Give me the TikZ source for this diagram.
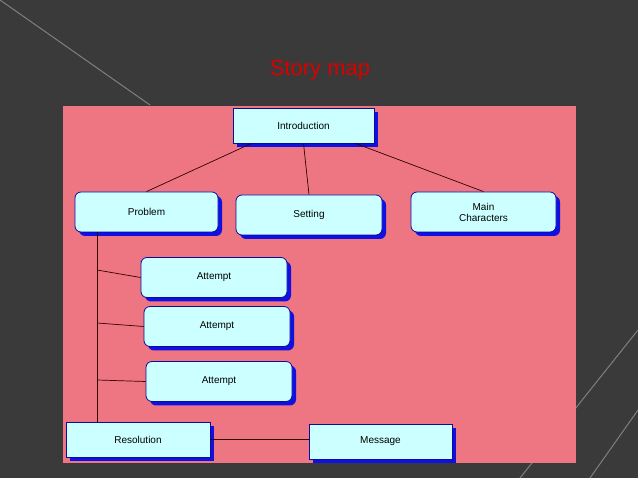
\documentclass[tikz,border=0pt]{standalone}
\usepackage{fontspec}
\setmainfont{Liberation Sans}
\definecolor{bg}{HTML}{3A3A3A}
\definecolor{panel}{HTML}{EE7682}
\definecolor{boxfill}{HTML}{CCFFFF}
\definecolor{shadowblue}{HTML}{1010E0}
\begin{document}
\begin{tikzpicture}[x=1pt,y=-1pt,
  base/.style={draw=shadowblue!70!black,fill=boxfill,line width=0.8pt,font=\fontsize{10}{11}\selectfont,align=center,inner sep=0pt},
  rbox/.style={base},
  link/.style={draw=black!80!red,line width=0.7pt}]
\useasboundingbox (0,0) rectangle (638,478);
\fill[bg] (0,0) rectangle (638,478);
\draw[white!35!bg,line width=1pt] (0,0) -- (150,105);
\draw[white!35!bg,line width=1pt] (638,330) -- (520,478);
\draw[white!35!bg,line width=1pt] (638,410) -- (590,478);
\fill[panel] (63,106) rectangle (576,463);
\node[text=red!85!black,font=\fontsize{22}{26}\selectfont] (title) at (320,70) {Story map};
\fill[shadowblue] (237,112) rectangle (378,147);
\fill[shadowblue] (70,426) rectangle (214,461);
\fill[shadowblue] (313,428) rectangle (456,463);
\node[rbox,minimum width=141pt,minimum height=35pt] (intro) at (303.5,125.5) {Introduction};
\node[rbox,minimum width=144pt,minimum height=35pt] (res) at (138,439.5) {Resolution};
\node[rbox,minimum width=143pt,minimum height=35pt] (msg) at (380.5,441.5) {Message};
\foreach \n/\cx/\cy/\w/\t in {prob/146.5/212/143/Problem, set/309/215/146/Setting, mc/483.5/212/145/{Main\\Characters}, a1/214/277.5/146/Attempt, a2/217/326.5/146/Attempt, a3/219/381.5/146/Attempt}{
  \fill[shadowblue,rounded corners=6pt] (\cx-\w/2+4,\cy-20+4) rectangle (\cx+\w/2+4,\cy+20+4);
  \node[base,rounded corners=6pt,minimum width=\w pt,minimum height=40pt] (\n) at (\cx,\cy) {\t};
}
\coordinate (j1) at (97,270);
\coordinate (j2) at (97,323);
\coordinate (j3) at (97,380);
\coordinate (pv) at (97,232);
\coordinate (rv) at (97,422);
\draw[link] ([xshift=-52pt]intro.south) -- (prob.north);
\draw[link] (intro.south) -- (set.north);
\draw[link] ([xshift=52pt]intro.south) -- (mc.north);
\draw[link] (pv) -- (rv);
\draw[link] (j1) -- (a1.west);
\draw[link] (j2) -- (a2.west);
\draw[link] (j3) -- (a3.west);
\draw[link] (res.east) -- (msg.west |- res.east);
\end{tikzpicture}
\end{document}
